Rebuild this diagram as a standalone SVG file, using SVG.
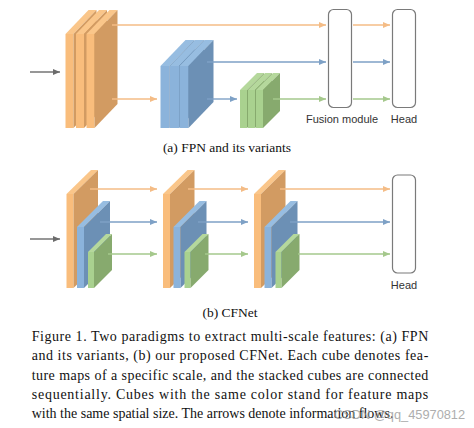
<svg xmlns="http://www.w3.org/2000/svg" xmlns:xlink="http://www.w3.org/1999/xlink" width="474" height="428" viewBox="0 0 474 428">
<style>
.of{fill:#F9BD7C}.ot{fill:#FAC68A}.os{fill:#D29B62}
.bf{fill:#8BB3DB}.bt{fill:#97BDE1}.bs{fill:#6C90B5}
.gf{fill:#A9D18F}.gt{fill:#B5D89C}.gs{fill:#87AA6E}
.box{fill:#fff;stroke:#7a7a7a;stroke-width:1.2}
.lbl{font-family:"Liberation Sans",Arial,sans-serif;font-size:11px;fill:#333}
.cap{font-family:"Liberation Serif","Times New Roman",serif;font-size:13.5px;fill:#111}
.txt{font-family:"Liberation Serif","Times New Roman",serif;font-size:14px;fill:#111}
.ao{stroke:#F4BC86;stroke-width:1.4;fill:none;marker-end:url(#mo)}
.ab{stroke:#7EA1C6;stroke-width:1.4;fill:none;marker-end:url(#mb)}
.ag{stroke:#A5C88C;stroke-width:1.4;fill:none;marker-end:url(#mg)}
.ak{stroke:#6b6b6b;stroke-width:1.4;fill:none;marker-end:url(#mk)}
</style>
<defs>
<marker id="mo" markerUnits="userSpaceOnUse" markerWidth="7" markerHeight="6" refX="7" refY="3" orient="auto"><path d="M0,0 L7,3 L0,6 z" fill="#F4BC86"/></marker>
<marker id="mb" markerUnits="userSpaceOnUse" markerWidth="7" markerHeight="6" refX="7" refY="3" orient="auto"><path d="M0,0 L7,3 L0,6 z" fill="#7EA1C6"/></marker>
<marker id="mg" markerUnits="userSpaceOnUse" markerWidth="7" markerHeight="6" refX="7" refY="3" orient="auto"><path d="M0,0 L7,3 L0,6 z" fill="#A5C88C"/></marker>
<marker id="mk" markerUnits="userSpaceOnUse" markerWidth="7" markerHeight="6" refX="7" refY="3" orient="auto"><path d="M0,0 L7,3 L0,6 z" fill="#6b6b6b"/></marker>
<g id="cstack">
<rect class="of" x="66.5" y="194" width="7" height="94"/>
<polygon class="ot" points="66.5,194 91,170 98,170 73.5,194"/>
<polygon class="os" points="73.5,194 98,170 98,264 73.5,288"/>
<rect class="bf" x="77" y="227" width="7" height="61"/>
<polygon class="bt" points="77,227 103,201 110,201 84,227"/>
<polygon class="bs" points="84,227 110,201 110,262 84,288"/>
<rect class="gf" x="88" y="252" width="6" height="36"/>
<polygon class="gt" points="88,252 106,234 112,234 94,252"/>
<polygon class="gs" points="94,252 112,234 112,270 94,288"/>
</g>
</defs>
<rect width="474" height="428" fill="#fff"/>

<!-- (a) FPN -->
<g id="fpn-orange">
<rect class="of" x="65.5" y="34" width="8" height="94"/>
<polygon class="ot" points="65.5,34 88.5,10 96.5,10 73.5,34"/>
<polygon class="os" points="73.5,34 96.5,10 96.5,104 73.5,128"/>
<rect class="of" x="76" y="34" width="8" height="94"/>
<polygon class="ot" points="76,34 99,10 107,10 84,34"/>
<polygon class="os" points="84,34 107,10 107,104 84,128"/>
<rect class="of" x="86.5" y="34" width="8" height="94"/>
<polygon class="ot" points="86.5,34 109.5,10 117.5,10 94.5,34"/>
<polygon class="os" points="94.5,34 117.5,10 117.5,104 94.5,128"/>
</g>
<g id="fpn-blue">
<rect class="bf" x="160.5" y="66" width="9" height="62"/>
<polygon class="bt" points="160.5,66 185.5,40 194.5,40 169.5,66"/>
<polygon class="bs" points="169.5,66 194.5,40 194.5,102 169.5,128"/>
<rect class="bf" x="170" y="66" width="9" height="62"/>
<polygon class="bt" points="170,66 195,40 204,40 179,66"/>
<polygon class="bs" points="179,66 204,40 204,102 179,128"/>
<rect class="bf" x="179.5" y="66" width="9" height="62"/>
<polygon class="bt" points="179.5,66 204.5,40 213.5,40 188.5,66"/>
<polygon class="bs" points="188.5,66 213.5,40 213.5,102 188.5,128"/>
</g>
<g id="fpn-green">
<rect class="gf" x="240" y="90" width="7" height="38"/>
<polygon class="gt" points="240,90 257,73 264,73 247,90"/>
<polygon class="gs" points="247,90 264,73 264,111 247,128"/>
<rect class="gf" x="248" y="90" width="7" height="38"/>
<polygon class="gt" points="248,90 265,73 272,73 255,90"/>
<polygon class="gs" points="255,90 272,73 272,111 255,128"/>
<rect class="gf" x="256" y="90" width="7" height="38"/>
<polygon class="gt" points="256,90 273,73 280,73 263,90"/>
<polygon class="gs" points="263,90 280,73 280,111 263,128"/>
</g>
<g id="fusion">
<rect class="box" x="328.5" y="9.5" width="23" height="98" rx="5"/>
<text class="lbl" x="342" y="123" text-anchor="middle">Fusion module</text>
</g>
<g id="head-a">
<rect class="box" x="392.5" y="9.5" width="23" height="98" rx="5"/>
<text class="lbl" x="404" y="123" text-anchor="middle">Head</text>
</g>

<!-- (b) CFNet -->
<g id="cf-stack1"><use xlink:href="#cstack"/></g>
<g id="cf-stack2"><use xlink:href="#cstack" x="96.5"/></g>
<g id="cf-stack3"><use xlink:href="#cstack" x="187.5"/></g>
<g id="head-b">
<rect class="box" x="392.5" y="175" width="23" height="98" rx="5"/>
<text class="lbl" x="404" y="289" text-anchor="middle">Head</text>
</g>

<g id="connectors">
<line class="ak" x1="30" y1="72" x2="60" y2="72"/>
<line class="ao" x1="112" y1="25" x2="326" y2="25"/>
<line class="ao" x1="112" y1="99" x2="157" y2="99"/>
<line class="ab" x1="207" y1="62" x2="326" y2="62"/>
<line class="ab" x1="207" y1="99" x2="237" y2="99"/>
<line class="ag" x1="273" y1="99" x2="326" y2="99"/>
<line class="ao" x1="353" y1="25" x2="390" y2="25"/>
<line class="ab" x1="353" y1="62" x2="390" y2="62"/>
<line class="ag" x1="353" y1="99" x2="390" y2="99"/>

<line class="ak" x1="30" y1="239" x2="60" y2="239"/>
<line class="ao" x1="90" y1="189" x2="157" y2="189"/>
<line class="ab" x1="100" y1="222" x2="157" y2="222"/>
<line class="ag" x1="108" y1="254" x2="157" y2="254"/>
<line class="ao" x1="188" y1="189" x2="248" y2="189"/>
<line class="ab" x1="198" y1="222" x2="248" y2="222"/>
<line class="ag" x1="205" y1="254" x2="248" y2="254"/>
<line class="ao" x1="280" y1="189" x2="390" y2="189"/>
<line class="ab" x1="290" y1="222" x2="390" y2="222"/>
<line class="ag" x1="298" y1="254" x2="390" y2="254"/>
</g>

<text class="cap" x="227" y="152" text-anchor="middle">(a) FPN and its variants</text>
<text class="cap" x="230" y="317" text-anchor="middle">(b) CFNet</text>

<text class="txt" x="31.7" y="341" textLength="396.6" lengthAdjust="spacing">Figure 1. Two paradigms to extract multi-scale features: (a) FPN</text>
<text class="txt" x="31.7" y="360.3" textLength="396.6" lengthAdjust="spacing">and its variants, (b) our proposed CFNet. Each cube denotes fea-</text>
<text class="txt" x="31.7" y="379.6" textLength="396.6" lengthAdjust="spacing">ture maps of a specific scale, and the stacked cubes are connected</text>
<text class="txt" x="31.7" y="398.9" textLength="396.6" lengthAdjust="spacing">sequentially.  Cubes with the same color stand for feature maps</text>
<text class="txt" x="31.7" y="418.2">with the same spatial size. The arrows denote information flows.</text>
<text x="334" y="419" font-family="'Liberation Sans',Arial,sans-serif" font-size="12.8" fill="#9a9a9a" opacity="0.8">CSDN @qq_45970812</text>
</svg>
